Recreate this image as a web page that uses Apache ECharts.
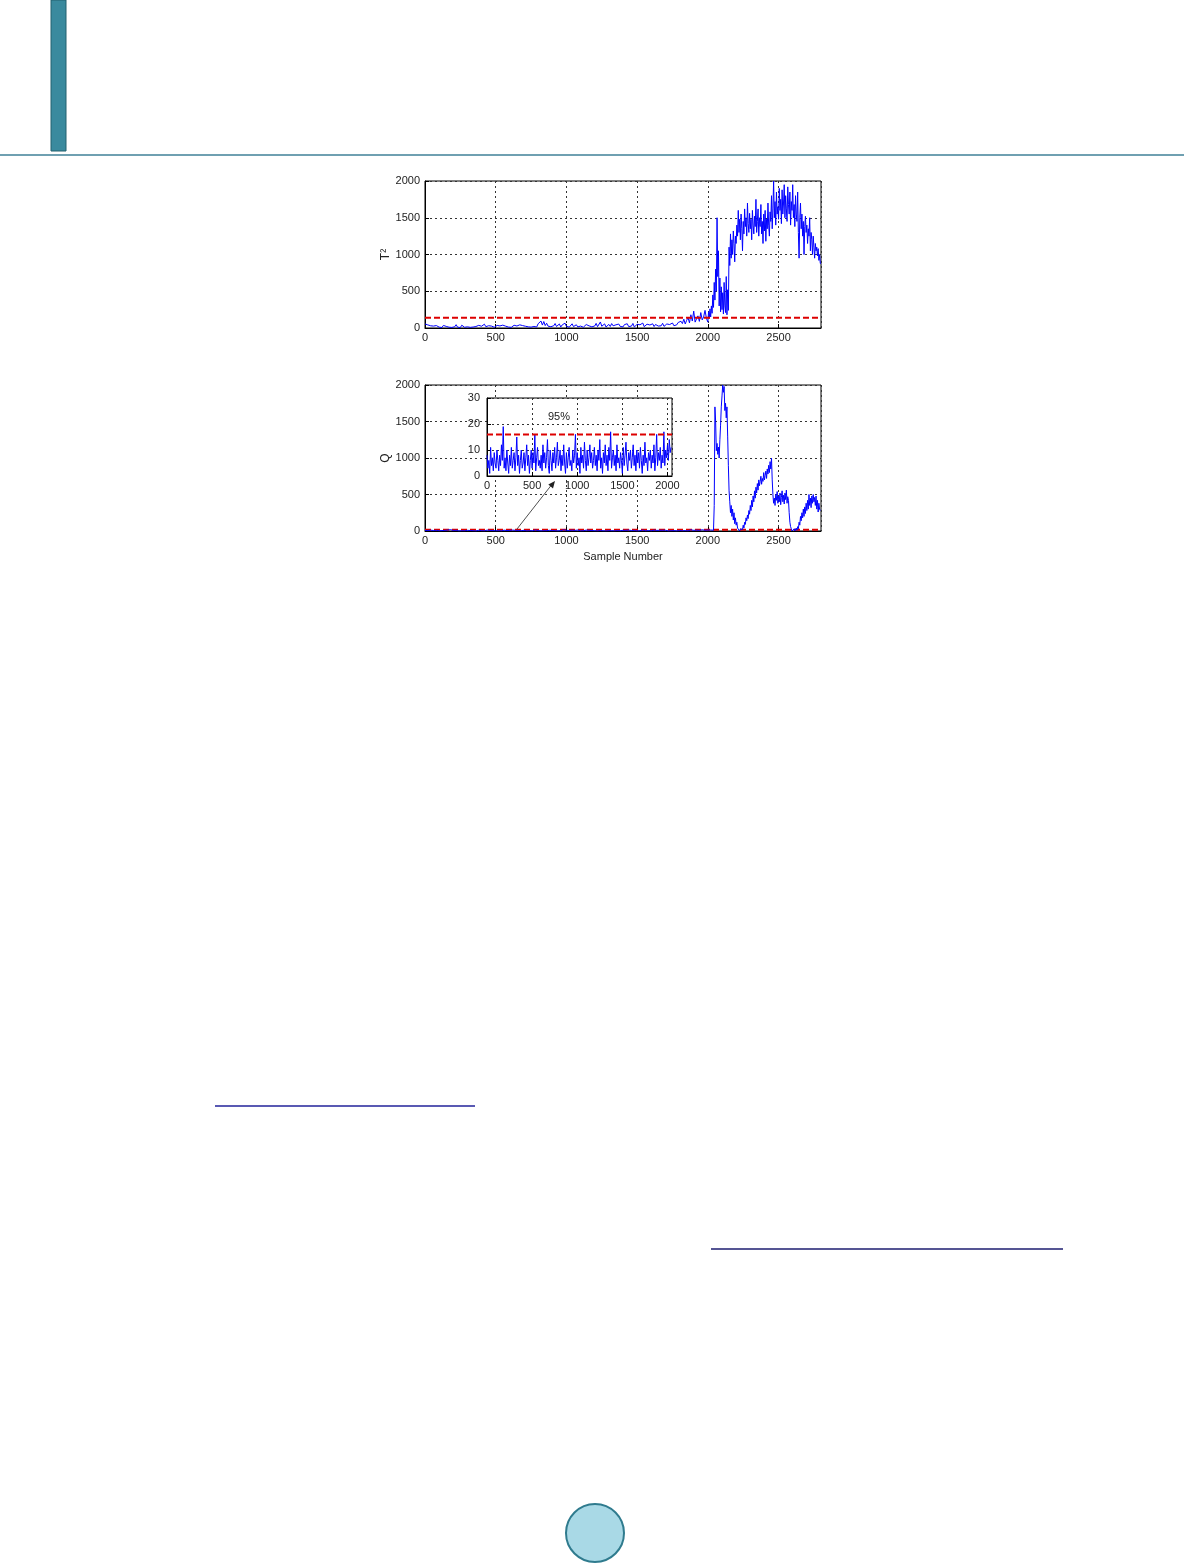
<!DOCTYPE html>
<html>
<head>
<meta charset="utf-8">
<script src="https://cdn.jsdelivr.net/npm/echarts@6/dist/echarts.min.js"></script>
<style>
html,body{margin:0;padding:0;background:#fff;}
#c{width:1184px;height:1564px;}
</style>
</head>
<body>
<div id="c"></div>
<script>
// ---------- data ----------
// T^2 statistic, samples 0..1990 every 10 samples
const t2Normal = [
 55,38,42,21,30,15,26,9,33,18,12,28,7,35,14,22,40,11,25,8,
 30,17,45,12,24,6,38,19,10,29,16,41,9,27,13,33,20,7,36,15,
 24,11,52,18,8,31,14,26,44,10,21,35,12,28,6,39,17,25,48,13,
 30,9,22,37,15,27,11,43,19,33,8,24,40,16,29,12,35,21,46,14,
 58,72,95,40,88,33,65,25,52,18,44,30,61,20,37,55,14,42,28,66,
 23,48,12,35,57,19,30,44,15,38,26,52,11,33,47,20,29,41,16,36,
 27,63,18,45,82,24,39,56,13,34,49,21,60,30,17,43,28,54,22,37,
 15,46,31,58,19,40,26,62,14,35,50,23,44,29,67,18,38,52,25,41,
 33,57,20,48,71,26,42,30,64,22,39,55,28,47,35,68,31,52,43,75,
 48,92,60,120,55,105,140,70,180,95,230,80,125,165,90,210,110,150,240,130
];
// T^2 statistic, samples 2000..2800 every 5 samples
const t2Fault = [
 80,220,130,260,150,300,200,450,280,620,380,800,500,1500,700,1050,300,680,220,560,
 250,480,190,620,300,210,700,180,520,240,1100,850,1280,950,1200,1000,1320,1150,900,1250,
 1150,1400,1250,1600,1300,1480,1200,1550,1350,1050,1450,1280,1620,1380,1500,1250,1700,1420,1300,1560,
 1350,1480,1200,1600,1400,1280,1520,1380,1750,1300,1450,1620,1250,1500,1380,1680,1280,1450,1150,1550,
 1320,1600,1180,1480,1350,1700,1400,1250,1580,1450,1800,1350,1620,2000,1500,1720,1400,1850,1550,1650,
 1480,1900,1600,1750,1420,1880,1550,1700,1950,1500,1800,1620,1450,1920,1680,1550,1850,1400,1720,1600,
 1950,1500,1680,1380,1800,1550,1450,1850,1300,950,1500,1700,1350,1550,1250,1450,1000,1380,1520,1300,
 1400,1150,1350,1250,1500,1050,1300,1200,1000,1250,1100,950,1150,1050,1100,980,1080,920,1000,880,
 870
];
// Q statistic, samples 0..2040 every 10 samples (shown in the inset)
const qNormal = [
 8,3,6,1,11,4,7,2,9,5,3,10,6,2,8,4,12,6,19,3,
 7,2,10,5,1,8,4,11,3,6,9,2,7,15,4,8,1,6,10,3,
 5,9,2,7,12,4,8,1,6,10,3,9,5,16,2,7,11,4,6,3,
 8,2,12,5,9,3,7,14,4,1,10,6,2,9,5,11,3,7,13,4,
 6,10,2,8,4,12,5,1,9,3,7,11,4,6,2,10,5,8,16,3,
 9,4,7,1,11,5,8,3,13,6,2,10,4,7,12,5,9,3,6,11,
 4,8,2,10,6,14,3,7,1,9,5,12,4,8,2,11,6,17,3,7,
 10,4,8,2,12,5,7,3,9,6,1,11,4,8,13,5,2,9,6,10,
 3,7,12,4,8,2,10,5,9,3,11,6,1,8,4,13,5,7,2,9,
 6,10,3,8,5,12,2,7,16,4,9,6,11,3,8,5,17,4,10,7,
 12,6,14,9,11
];
// Q statistic, samples 2045..2800 every 5 samples
const qFault = [
 350,
 1700,1500,1100,1200,1050,1150,1000,1250,1450,1700,
 1850,2000,1900,1980,1650,1750,1550,1700,1300,900,
 550,400,250,350,200,300,150,250,100,180,
 80,120,40,20,60,0,30,10,50,20,
 80,40,120,90,180,140,220,170,280,230,
 350,280,420,330,480,400,550,450,600,520,
 650,560,700,620,680,750,640,720,680,800,
 700,760,820,720,850,780,900,800,950,850,
 1000,700,500,380,450,350,500,420,540,380,
 480,400,520,360,460,550,400,490,370,520,
 430,560,380,470,420,250,120,60,30,0,
 20,10,30,0,15,40,10,60,30,120,
 80,200,140,250,180,300,200,330,240,380,
 280,420,300,500,350,450,320,480,380,500,
 400,460,350,480,300,420,260,380,300,280,
 300
];
const t2Limit = 140;   // T^2 control limit
const qLimit = 16;     // Q control limit (95%)
const xTicks = { max: 2800, step: 500 };
const insetTicks = { xmax: 2050, xstep: 500, ymax: 30, ystep: 10 };
const labels = { t2: 'T²', q: 'Q', x: 'Sample Number', conf: '95%' };

// ---------- build series ----------
const t2Data = t2Normal.map((v,i)=>[i*10, v]).concat(t2Fault.map((v,i)=>[2000+i*5, v]));
const qInsetData = qNormal.map((v,i)=>[i*10, v]);
const qData = qInsetData.concat(qFault.map((v,i)=>[2045+i*5, v]));

const FONT = '"Liberation Sans", Arial, sans-serif';
const plain = v => String(v);
const labelStyle = { color:'#222', fontSize:11, fontFamily:FONT, formatter:plain };
const split = { show:true, lineStyle:{ color:'#333', type:[2,3], width:1 } };
const tick = { show:true, inside:true, length:4, lineStyle:{color:'#000'} };
const aline = { show:true, lineStyle:{ color:'#000', width:1 } };

function xAx(gi, extra){
  return Object.assign({
    type:'value', gridIndex:gi, min:0, max:xTicks.max, interval:xTicks.step,
    axisLine:aline, axisTick:tick, splitLine:split,
    axisLabel:Object.assign({ margin:4, showMaxLabel:false }, labelStyle)
  }, extra||{});
}
function yAx(gi, name, extra){
  return Object.assign({
    type:'value', gridIndex:gi, min:0, max:2000, interval:500,
    name:name, nameLocation:'middle', nameGap:33, nameRotate:90,
    nameTextStyle:{ color:'#222', fontSize:12, fontFamily:FONT },
    axisLine:aline, axisTick:tick, splitLine:split,
    axisLabel:Object.assign({ margin:5 }, labelStyle)
  }, extra||{});
}

const chart = echarts.init(document.getElementById('c'), null, {renderer:'canvas'});
const option = {
  animation:false,
  backgroundColor:'#fff',
  grid:[
    { left:425, top:181, width:396, height:147, show:true, borderColor:'#000', borderWidth:1, backgroundColor:'#fff' },
    { left:425, top:385, width:396, height:146, show:true, borderColor:'#000', borderWidth:1, backgroundColor:'#fff' },
    { left:487, top:398, width:185, height:78, show:true, borderColor:'#000', borderWidth:1, backgroundColor:'#fff', z:10 }
  ],
  xAxis:[
    xAx(0),
    xAx(1, { name:labels.x, nameLocation:'middle', nameGap:20, nameTextStyle:{ color:'#222', fontSize:11, fontFamily:FONT } }),
    xAx(2, { max:insetTicks.xmax, interval:insetTicks.xstep, z:11 })
  ],
  yAxis:[
    yAx(0, labels.t2),
    yAx(1, labels.q),
    yAx(2, '', { max:insetTicks.ymax, interval:insetTicks.ystep, z:11, axisLabel:Object.assign({ margin:7 }, labelStyle) })
  ],
  series:[
    { type:'line', xAxisIndex:0, yAxisIndex:0, data:t2Data, showSymbol:false, symbol:'none',
      lineStyle:{ color:'#0000ff', width:1 }, z:2 },
    { type:'line', xAxisIndex:0, yAxisIndex:0, data:[[0,t2Limit],[xTicks.max,t2Limit]], symbol:'none',
      lineStyle:{ color:'#dd0000', width:2, type:[6,3] }, z:3 },
    { type:'line', xAxisIndex:1, yAxisIndex:1, data:[[0,qLimit],[xTicks.max,qLimit]], symbol:'none',
      lineStyle:{ color:'#dd0000', width:2, type:[6,3] }, z:2 },
    { type:'line', xAxisIndex:1, yAxisIndex:1, data:qData, symbol:'none',
      lineStyle:{ color:'#0000ff', width:1 }, z:3 },
    { type:'line', xAxisIndex:2, yAxisIndex:2, data:qInsetData, symbol:'none',
      lineStyle:{ color:'#0000ff', width:1 }, z:12 },
    { type:'line', xAxisIndex:2, yAxisIndex:2, data:[[0,qLimit],[insetTicks.xmax,qLimit]], symbol:'none',
      lineStyle:{ color:'#dd0000', width:2, type:[6,3] }, z:13 }
  ],
  graphic:[
    // page decoration
    { type:'rect', shape:{ x:51, y:0, width:15, height:151 }, style:{ fill:'#3a8a9e', stroke:'#23606f', lineWidth:1 }, z:1 },
    { type:'line', shape:{ x1:0, y1:155, x2:1184, y2:155 }, style:{ stroke:'#3f8197', lineWidth:1.5 }, z:1 },
    { type:'line', shape:{ x1:215, y1:1106, x2:475, y2:1106 }, style:{ stroke:'#22229a', lineWidth:1.5 }, z:1 },
    { type:'line', shape:{ x1:711, y1:1249, x2:1063, y2:1249 }, style:{ stroke:'#1c1c70', lineWidth:1.5 }, z:1 },
    { type:'circle', shape:{ cx:595, cy:1533, r:29 }, style:{ fill:'#a9d9e6', stroke:'#2f7b8e', lineWidth:2 }, z:1 },
    // inset annotation
    { type:'text', x:559, y:417, style:{ text:labels.conf, fill:'#222', fontSize:11, fontFamily:FONT, align:'center', verticalAlign:'middle' }, z:30 },
    { type:'line', shape:{ x1:517, y1:529, x2:553, y2:483 }, style:{ stroke:'#222', lineWidth:0.8 }, z:30 },
    { type:'polygon', shape:{ points:[[555,481],[553.0,488.4],[548.3,484.6]] }, style:{ fill:'#222' }, z:30 }
  ]
};
chart.setOption(option);
</script>
</body>
</html>
